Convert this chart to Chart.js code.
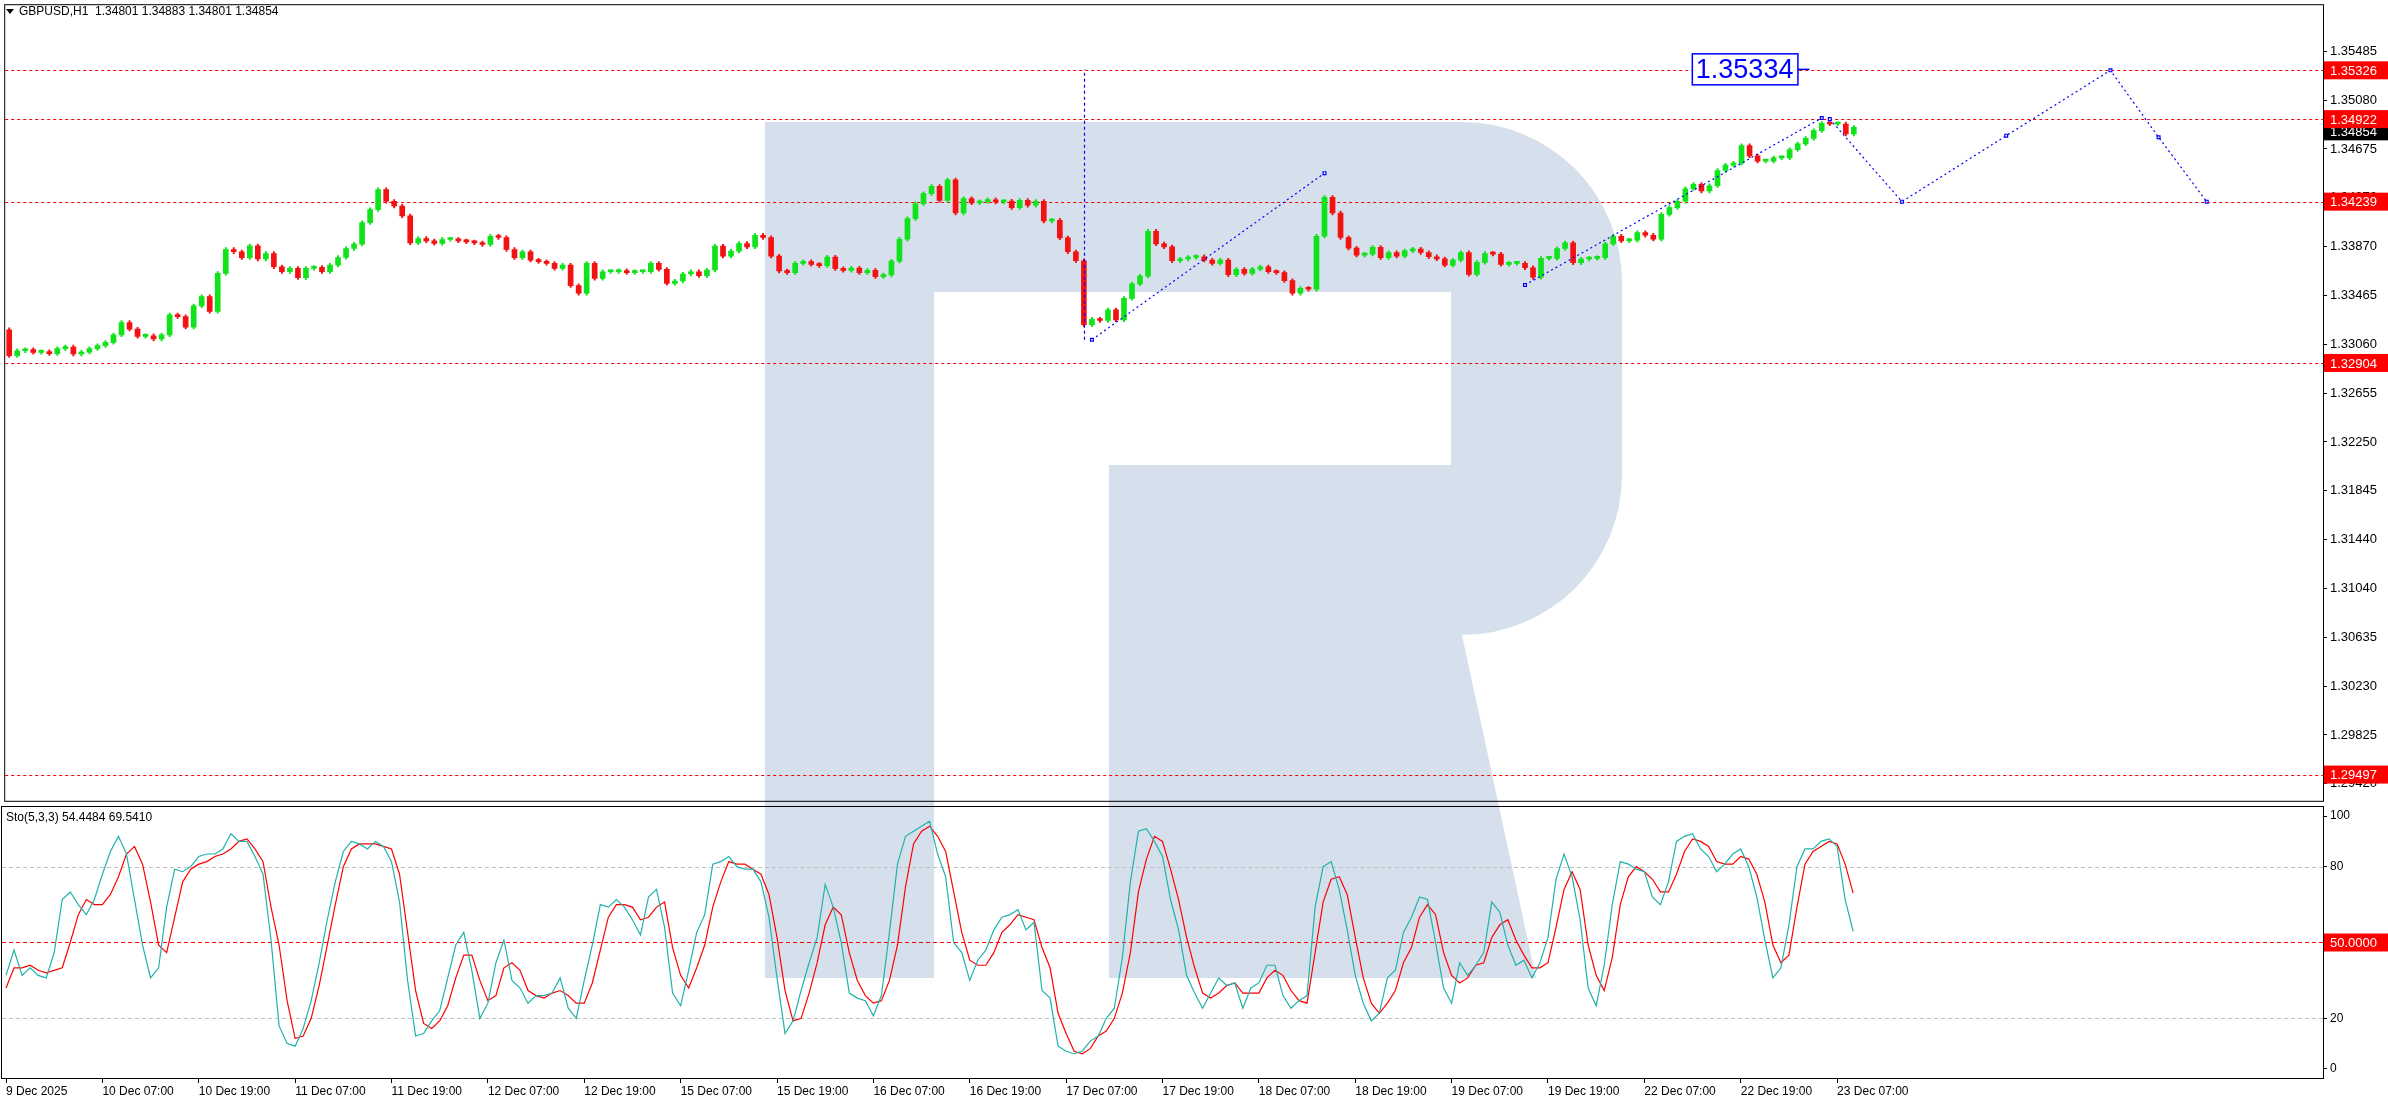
<!DOCTYPE html>
<html><head><meta charset="utf-8">
<script src="https://cdn.jsdelivr.net/npm/chart.js@4/dist/chart.umd.min.js"></script>
<style>
html,body{margin:0;background:#fff;width:2388px;height:1100px;overflow:hidden}
#bg{position:absolute;left:0;top:0}
#w1{position:absolute;left:0;top:0;width:2388px;height:806px}
#w2{position:absolute;left:0;top:805px;width:2388px;height:295px}
</style></head><body>
<canvas id="bg" width="2388" height="1100"></canvas>
<div id="w1"><canvas id="c1"></canvas></div>
<div id="w2"><canvas id="c2"></canvas></div>
<script>
// ---- data ----
const symbolHeader = "GBPUSD,H1  1.34801 1.34883 1.34801 1.34854";
const stochHeader = "Sto(5,3,3) 54.4484 69.5410";
const timeLabels = ["9 Dec 2025","10 Dec 07:00","10 Dec 19:00","11 Dec 07:00","11 Dec 19:00","12 Dec 07:00","12 Dec 19:00","15 Dec 07:00","15 Dec 19:00","16 Dec 07:00","16 Dec 19:00","17 Dec 07:00","17 Dec 19:00","18 Dec 07:00","18 Dec 19:00","19 Dec 07:00","19 Dec 19:00","22 Dec 07:00","22 Dec 19:00","23 Dec 07:00"];
const firstOpen = 1.33179;
const closes = [
1.32964,1.33005,1.33014,1.32992,1.32997,1.32981,1.33022,1.33036,1.32978,1.32994,
1.33022,1.33047,1.33074,1.33137,1.33239,1.33184,1.33124,1.33129,1.33102,1.33137,
1.33302,1.33288,1.33200,1.33376,1.33453,1.33330,1.33645,1.33843,1.33824,1.33775,
1.33873,1.33764,1.33810,1.33700,1.33659,1.33687,1.33610,1.33687,1.33695,1.33659,
1.33714,1.33777,1.33851,1.33887,1.34066,1.34173,1.34338,1.34242,1.34203,1.34121,
1.33898,1.33934,1.33915,1.33893,1.33926,1.33926,1.33915,1.33906,1.33898,1.33884,
1.33953,1.33942,1.33843,1.33775,1.33824,1.33755,1.33742,1.33728,1.33687,1.33714,
1.33544,1.33481,1.33728,1.33604,1.33659,1.33659,1.33667,1.33651,1.33659,1.33659,
1.33728,1.33678,1.33563,1.33582,1.33640,1.33659,1.33626,1.33673,1.33871,1.33788,
1.33830,1.33893,1.33865,1.33961,1.33942,1.33788,1.33665,1.33651,1.33728,1.33742,
1.33720,1.33709,1.33780,1.33684,1.33670,1.33689,1.33651,1.33670,1.33618,1.33632,
1.33747,1.33928,1.34099,1.34222,1.34305,1.34365,1.34250,1.34420,1.34145,1.34264,
1.34228,1.34239,1.34255,1.34236,1.34244,1.34189,1.34250,1.34209,1.34242,1.34079,
1.34085,1.33939,1.33824,1.33750,1.33220,1.33266,1.33255,1.33343,1.33261,1.33439,
1.33558,1.33623,1.33994,1.33890,1.33865,1.33750,1.33764,1.33777,1.33783,1.33755,
1.33728,1.33755,1.33634,1.33678,1.33645,1.33681,1.33700,1.33659,1.33651,1.33585,
1.33481,1.33522,1.33514,1.33953,1.34275,1.34145,1.33942,1.33854,1.33797,1.33805,
1.33860,1.33775,1.33818,1.33788,1.33832,1.33846,1.33818,1.33783,1.33766,1.33714,
1.33755,1.33818,1.33637,1.33736,1.33810,1.33805,1.33720,1.33728,1.33728,1.33692,
1.33613,1.33769,1.33769,1.33851,1.33898,1.33733,1.33764,1.33769,1.33775,1.33890,
1.33953,1.33915,1.33920,1.33983,1.33961,1.33928,1.34134,1.34189,1.34242,1.34346,
1.34382,1.34327,1.34371,1.34497,1.34541,1.34557,1.34703,1.34618,1.34574,1.34574,
1.34601,1.34601,1.34670,1.34717,1.34763,1.34827,1.34887,1.34882,1.34882,1.34799,
1.34854];
const stochK = [
37,47,37,40,37,36,46,67,70,65, 61,67,77,86,92,85,67,49,36,40,
64,79,78,80,84,85,85,87,93,90, 90,84,77,51,17,10,9,16,27,42,
59,74,86,90,89,87,90,88,82,66, 35,13,14,19,23,36,49,54,39,20,
26,42,51,35,32,26,29,29,30,36, 24,20,35,49,65,64,67,64,59,53,
68,71,56,30,25,39,54,61,81,82, 84,80,79,79,74,60,36,14,19,31,
42,52,73,64,50,30,28,27,21,29, 54,81,92,94,96,98,85,76,50,46,
35,43,47,55,60,61,63,55,58,31, 28,9,7,6,7,11,13,20,24,44,
74,94,95,90,84,67,55,37,30,24, 30,36,33,34,24,32,34,41,41,29,
24,27,29,64,80,82,71,55,37,26, 19,22,36,39,54,60,68,67,50,32,
26,42,37,41,46,66,62,49,41,43, 36,42,52,75,85,76,59,32,25,41,
65,82,81,79,78,68,65,74,90,92, 93,87,84,78,81,85,87,80,68,51,
36,40,57,80,87,87,90,91,88,67, 54.4484];
const stochD = [
32,40,40,41,39,38,39,40,50,61, 67,65,65,69,76,85,88,81,66,49,
46,60,74,79,81,82,84,85,87,90, 91,87,82,64,49,27,12,13,20,33,
49,65,80,87,89,89,89,88,87,77, 54,31,18,16,19,25,36,45,45,35,
27,29,40,42,39,31,29,28,30,31, 29,26,26,34,47,60,65,65,64,59,
60,64,66,48,37,32,40,49,64,74, 82,81,81,79,77,69,52,31,19,20,
30,42,57,64,61,46,35,29,26,27, 35,49,72,89,94,96,92,86,70,54,
43,41,41,46,54,57,61,60,59,48, 40,22,14,7,6,8,13,15,20,30,
46,70,83,92,90,79,67,52,40,30, 28,30,33,34,30,30,30,36,39,37,
31,27,26,46,66,75,76,69,52,36, 26,22,26,31,42,48,60,65,61,46,
37,34,36,41,42,52,57,59,51,45, 40,40,42,56,71,78,71,49,37,31,
44,65,76,80,78,75,70,70,77,86, 91,90,88,82,81,81,84,83,77,66,
49,42,45,64,81,86,88,90,89,81, 69.5410];
const priceTicks = [1.35485,1.35080,1.34675,1.34270,1.33870,1.33465,1.33060,1.32655,1.32250,1.31845,1.31440,1.31040,1.30635,1.30230,1.29825,1.29420];
const levels = [1.35326,1.34922,1.34239,1.32904,1.29497];
const currentPrice = 1.34854;
const forecastIdx = [227,236,249,262,268,274];
const forecastVal = [1.34922,1.34239,1.34785,1.35326,1.34772,1.34239];
const wave1Idx = [135,164], wave1Val = [1.33096,1.34475];
const wave2Idx = [189,226], wave2Val = [1.33549,1.34931];
const verticalIdx = 134, verticalFrom = 1.33096, verticalTo = 1.35334;
const targetLabel = "1.35334", targetIdx = 209.8;
const stochTicks = [0,20,80,100];
const stochLevels = [20,50,80];
const nBars = 289;

// ---- build ----
const cats = Array.from({length:nBars},(_,i)=> i%12===0 && timeLabels[i/12] ? timeLabels[i/12] : '');
const opens = closes.map((c,i)=> i===0 ? firstOpen : closes[i-1]);
const WICK = 0.00015;
const bodies = closes.map((c,i)=>[opens[i], c]);
const wicks = closes.map((c,i)=>[Math.min(opens[i],c)-WICK, Math.max(opens[i],c)+WICK]);
const up = closes.map((c,i)=> c>=opens[i]);
const GREEN='#10e21c', RED='#f21212';
function sparse(idx, vals){ const a=new Array(nBars).fill(null); idx.forEach((k,j)=>a[k]=vals[j]); return a; }

// background logo (watermark)
(function(){
  const g=document.getElementById('bg').getContext('2d');
  g.fillStyle='#d6e0ec';
  g.beginPath();
  g.moveTo(765,122); g.lineTo(1462,122);
  g.arcTo(1622,122,1622,282,160); g.lineTo(1622,475);
  g.arcTo(1622,635,1462,635,160);
  g.lineTo(1536,978); g.lineTo(1109,978); g.lineTo(1109,465);
  g.lineTo(1451,465); g.lineTo(1451,292); g.lineTo(934,292);
  g.lineTo(934,978); g.lineTo(765,978); g.closePath(); g.fill();
})();

Chart.defaults.font.family = "'Liberation Sans', Arial, sans-serif";
Chart.defaults.font.size = 12;
Chart.defaults.color = '#000';
Chart.defaults.animation = false;

function box(ctx, y, text, bg){
  ctx.fillStyle=bg; ctx.fillRect(2324, y-9, 64, 18);
  ctx.fillStyle='#fff'; ctx.font="13px 'Liberation Sans'"; ctx.textAlign='left'; ctx.textBaseline='middle';
  ctx.fillText(text, 2330, y+1);
}
function fitY(s){ s.width=65; s.paddingTop=0; s.paddingBottom=0; }

const mainPlugin = {
  id:'mainDeco',
  beforeDatasetsDraw(ch){
    const {ctx, chartArea:a, scales:{y}} = ch;
    ctx.save(); ctx.strokeStyle='#ff0000'; ctx.lineWidth=1; ctx.setLineDash([3,3]);
    levels.forEach(v=>{ const py=Math.round(y.getPixelForValue(v))+0.5; ctx.beginPath(); ctx.moveTo(a.left,py); ctx.lineTo(a.right,py); ctx.stroke(); });
    ctx.restore();
  },
  afterDraw(ch){
    const {ctx, chartArea:a, scales:{x,y}} = ch;
    ctx.save();
    ctx.strokeStyle='#0000ff'; ctx.setLineDash([3,3]); ctx.lineWidth=1.2;
    const vx=Math.round(x.getPixelForValue(verticalIdx))+0.5;
    ctx.beginPath(); ctx.moveTo(vx,y.getPixelForValue(verticalFrom)); ctx.lineTo(vx,y.getPixelForValue(verticalTo)); ctx.stroke();
    ctx.setLineDash([]);
    const tx=x.getPixelForValue(targetIdx), ty=y.getPixelForValue(verticalTo);
    ctx.font="27px 'Liberation Sans'"; ctx.textBaseline='middle'; ctx.textAlign='left';
    const w=ctx.measureText(targetLabel).width+8;
    ctx.fillStyle='#fff'; ctx.fillRect(tx,ty-16,w,32);
    ctx.strokeStyle='#0000ff'; ctx.lineWidth=1.5; ctx.strokeRect(tx+0.5,ty-15.5,w,31);
    ctx.fillStyle='#0000ff'; ctx.fillText(targetLabel, tx+4, ty+1);
    ctx.beginPath(); ctx.moveTo(tx+w,ty); ctx.lineTo(tx+w+12,ty); ctx.stroke();
    ctx.strokeStyle='#000'; ctx.lineWidth=1;
    ctx.strokeRect(a.left-0.5, a.top-0.5, a.right-a.left+1, a.bottom-a.top+1);
    ctx.fillStyle='#000'; ctx.font="12px 'Liberation Sans'"; ctx.textBaseline='middle';
    ctx.beginPath(); ctx.moveTo(6,9); ctx.lineTo(14,9); ctx.lineTo(10,14); ctx.closePath(); ctx.fill();
    ctx.fillText(symbolHeader, 19, 12);
    box(ctx, y.getPixelForValue(currentPrice)+4, currentPrice.toFixed(5), '#000');
    levels.forEach(v=> box(ctx, y.getPixelForValue(v), v.toFixed(5), '#ff0000'));
    ctx.restore();
  }
};

new Chart(document.getElementById('c1'), {
  data:{ labels:cats, datasets:[
    {type:'bar', data:wicks, backgroundColor:up.map(u=>u?GREEN:RED), barThickness:1.3, grouped:false, order:3},
    {type:'bar', data:bodies, backgroundColor:up.map(u=>u?GREEN:RED), barThickness:5, grouped:false, minBarLength:2, order:2},
    {type:'line', data:sparse(wave1Idx,wave1Val), spanGaps:true, borderColor:'#0000ff', borderWidth:1.2, borderDash:[2,3], pointRadius:2, pointStyle:'rect', pointBackgroundColor:'#fff', order:1},
    {type:'line', data:sparse(wave2Idx,wave2Val), spanGaps:true, borderColor:'#0000ff', borderWidth:1.2, borderDash:[2,3], pointRadius:2, pointStyle:'rect', pointBackgroundColor:'#fff', order:1},
    {type:'line', data:sparse(forecastIdx,forecastVal), spanGaps:true, borderColor:'#0000ff', borderWidth:1.2, borderDash:[2,3], pointRadius:2, pointStyle:'rect', pointBackgroundColor:'#fff', order:1}
  ]},
  options:{
    responsive:true, maintainAspectRatio:false, devicePixelRatio:1,
    layout:{padding:{top:4,bottom:3,left:2,right:0}},
    plugins:{legend:{display:false}, tooltip:{enabled:false}},
    scales:{
      x:{type:'category', offset:true, display:false},
      y:{position:'right', min:1.29280, max:1.35865,
         afterBuildTicks:s=>{s.ticks=priceTicks.map(v=>({value:v}));},
         afterFit:fitY,
         ticks:{callback:v=>Number(v).toFixed(5), padding:3, crossAlign:'near', font:{size:13}},
         grid:{drawOnChartArea:false, tickLength:4, color:'#000'}, border:{color:'#000'}}
    }
  },
  plugins:[mainPlugin]
});

const stochPlugin = {
  id:'stochDeco',
  beforeDatasetsDraw(ch){
    const {ctx, chartArea:a, scales:{y}} = ch;
    ctx.save(); ctx.lineWidth=1; ctx.setLineDash([4,3]);
    stochLevels.forEach(v=>{ ctx.strokeStyle = v===50?'#ff0000':'#c0c0c0';
      const py=Math.round(y.getPixelForValue(v))+0.5; ctx.beginPath(); ctx.moveTo(a.left,py); ctx.lineTo(a.right,py); ctx.stroke(); });
    ctx.restore();
  },
  afterDraw(ch){
    const {ctx, chartArea:a, scales:{y}} = ch;
    ctx.save(); ctx.strokeStyle='#000'; ctx.lineWidth=1;
    ctx.strokeRect(a.left-0.5, a.top-0.5, a.right-a.left+1, a.bottom-a.top+1);
    ctx.fillStyle='#000'; ctx.font="12px 'Liberation Sans'"; ctx.textBaseline='middle'; ctx.textAlign='left';
    ctx.fillText(stochHeader, 6, a.top+11);
    box(ctx, y.getPixelForValue(50), '50.0000', '#ff0000');
    ctx.restore();
  }
};

new Chart(document.getElementById('c2'), {
  type:'line',
  data:{ labels:cats, datasets:[
    {data:stochK, borderColor:'#20b2aa', borderWidth:1.2, pointRadius:0, tension:0},
    {data:stochD, borderColor:'#ff0000', borderWidth:1.2, pointRadius:0, tension:0}
  ]},
  options:{
    responsive:true, maintainAspectRatio:false, devicePixelRatio:1,
    layout:{padding:{top:2,bottom:0,left:2,right:0}},
    plugins:{legend:{display:false}, tooltip:{enabled:false}},
    scales:{
      x:{type:'category', offset:true, afterFit:s=>{s.height=22;},
         ticks:{autoSkip:false, maxRotation:0, align:'start', padding:1, font:{size:12},
                callback:(v,i)=>cats[i]},
         grid:{drawOnChartArea:false, tickLength:5, color:c=> (c.tick && c.tick.label) ? '#000' : 'rgba(0,0,0,0)'},
         border:{color:'#000'}},
      y:{position:'right', min:-3.6, max:103.6,
         afterBuildTicks:s=>{s.ticks=stochTicks.map(v=>({value:v}));},
         afterFit:fitY,
         ticks:{callback:v=>String(v), padding:3, crossAlign:'near', font:{size:12}},
         grid:{drawOnChartArea:false, tickLength:4, color:'#000'}, border:{color:'#000'}}
    }
  },
  plugins:[stochPlugin]
});
</script>
</body></html>
